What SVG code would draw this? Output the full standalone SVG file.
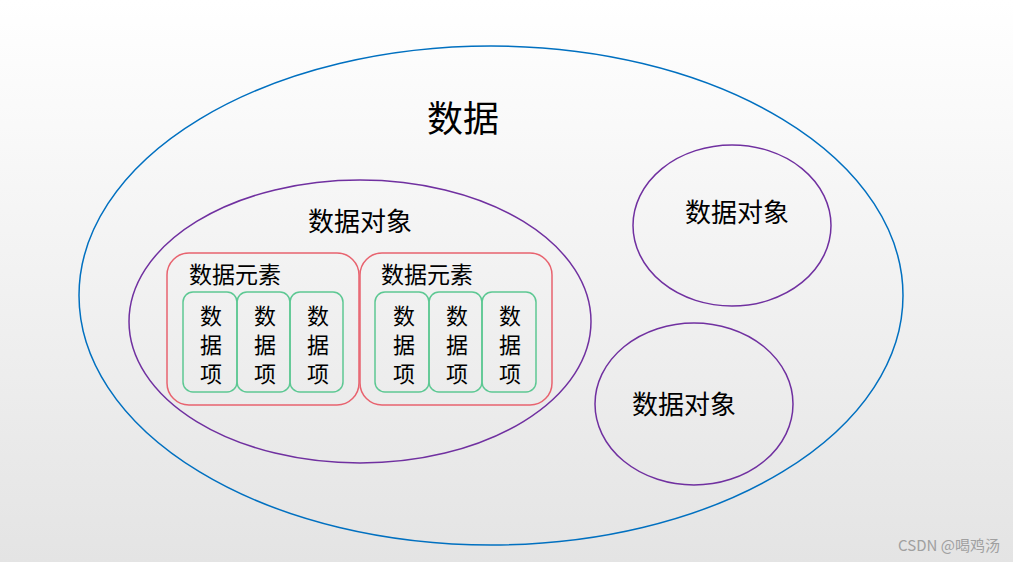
<svg xmlns="http://www.w3.org/2000/svg" width="1013" height="562" viewBox="0 0 1013 562">
<defs>
<linearGradient id="bg" x1="0" y1="0" x2="0" y2="1">
<stop offset="0" stop-color="#ffffff"/>
<stop offset="1" stop-color="#e4e4e4"/>
</linearGradient>
</defs>
<style>
text{font-family:"Noto Sans CJK SC","Noto Sans",sans-serif;fill:#000;text-anchor:middle;dominant-baseline:central}
.blue{fill:none;stroke:#0070C0;stroke-width:1.5}
.purple{fill:none;stroke:#7030A0;stroke-width:1.5}
.red{fill:none;stroke:#E8636F;stroke-width:1.5}
.green{fill:none;stroke:#5DC893;stroke-width:1.5}
.item{font-size:22px}
.elem{font-size:23px;text-anchor:start}
.obj{font-size:26px}
</style>
<rect width="1013" height="562" fill="url(#bg)"/>
<g id="data">
<ellipse class="blue" cx="491" cy="295.5" rx="412" ry="249.5"/>
<text x="463" y="116" style="font-size:36px">数据</text>
</g>
<g id="object1">
<ellipse class="purple" cx="360" cy="321.5" rx="231" ry="141.5"/>
<text class="obj" x="360" y="219">数据对象</text>
</g>
<g id="object2">
<ellipse class="purple" cx="732" cy="225.5" rx="99" ry="80.5"/>
<text class="obj" x="737" y="210">数据对象</text>
</g>
<g id="object3">
<ellipse class="purple" cx="694" cy="404" rx="99" ry="81"/>
<text class="obj" x="684" y="402">数据对象</text>
</g>
<g id="element1">
<rect class="red" x="167" y="253" width="192" height="152" rx="22"/>
<text class="elem" x="189" y="273">数据元素</text>
</g>
<g id="element2">
<rect class="red" x="360" y="253" width="192" height="152" rx="22"/>
<text class="elem" x="381" y="273">数据元素</text>
</g>
<g id="item1"><rect class="green" x="183" y="292" width="54" height="100" rx="10"/><text class="item" x="211" y="314">数</text><text class="item" x="211" y="343">据</text><text class="item" x="211" y="372">项</text></g>
<g id="item2"><rect class="green" x="237" y="292" width="53" height="100" rx="10"/><text class="item" x="265" y="314">数</text><text class="item" x="265" y="343">据</text><text class="item" x="265" y="372">项</text></g>
<g id="item3"><rect class="green" x="290" y="292" width="53" height="100" rx="10"/><text class="item" x="318" y="314">数</text><text class="item" x="318" y="343">据</text><text class="item" x="318" y="372">项</text></g>
<g id="item4"><rect class="green" x="375" y="292" width="54" height="100" rx="10"/><text class="item" x="404" y="314">数</text><text class="item" x="404" y="343">据</text><text class="item" x="404" y="372">项</text></g>
<g id="item5"><rect class="green" x="429" y="292" width="53" height="100" rx="10"/><text class="item" x="457" y="314">数</text><text class="item" x="457" y="343">据</text><text class="item" x="457" y="372">项</text></g>
<g id="item6"><rect class="green" x="482" y="292" width="54" height="100" rx="10"/><text class="item" x="510" y="314">数</text><text class="item" x="510" y="343">据</text><text class="item" x="510" y="372">项</text></g>
<g id="connectors"></g>
<text x="949" y="544" style="font-size:15px;fill:#a0a0a0">CSDN @喝鸡汤</text>
</svg>
